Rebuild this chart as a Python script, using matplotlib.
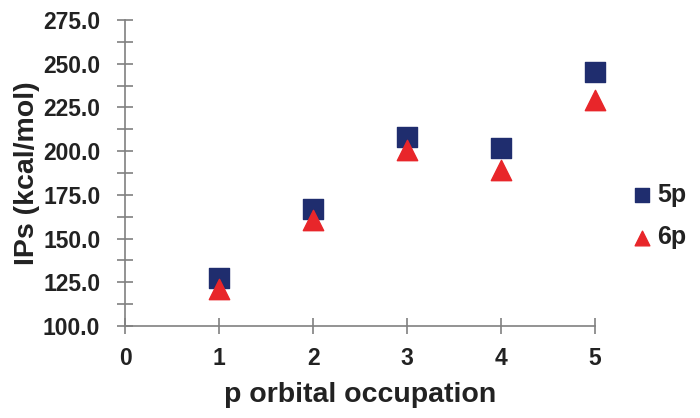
import numpy as np
import matplotlib.pyplot as plt
from matplotlib.ticker import MultipleLocator, FormatStrFormatter

occupation = [1, 2, 3, 4, 5]
ip_5p = [127.4, 166.9, 208.0, 201.8, 245.2]
ip_6p = [121.0, 160.6, 200.6, 189.0, 229.0]

plt.rcParams['font.family'] = ['Liberation Sans', 'DejaVu Sans']
plt.rcParams['font.weight'] = 'bold'

fig = plt.figure(figsize=(7, 4.18), dpi=100)
ax = fig.add_axes([0.179, 0.22, 0.671, 0.732])

ax.scatter(occupation, ip_5p, marker='s', s=215, color='#1f2d6e', label='5p',
           clip_on=False, zorder=3)
ax.scatter(occupation, ip_6p, marker='^', s=215, color='#e8262a', label='6p',
           clip_on=False, zorder=3)

ax.set_xlim(0, 5)
ax.set_ylim(100, 275)
ax.xaxis.set_major_locator(MultipleLocator(1))
ax.yaxis.set_major_locator(MultipleLocator(25))
ax.yaxis.set_minor_locator(MultipleLocator(12.5))
ax.yaxis.set_major_formatter(FormatStrFormatter('%.1f'))

for s in ['top', 'right']:
    ax.spines[s].set_visible(False)
for s in ['left', 'bottom']:
    ax.spines[s].set_color('#808080')
    ax.spines[s].set_linewidth(1.2)

ax.tick_params(axis='both', which='both', direction='inout', color='#808080',
               width=1.2, length=12, labelsize=16.5, labelcolor='#222222')
ax.tick_params(axis='x', pad=9)
ax.tick_params(axis='y', pad=12)

ax.set_xlabel('p orbital occupation', fontsize=20.5, fontweight='bold',
              color='#222222', labelpad=9)
ax.set_ylabel('IPs (kcal/mol)', fontsize=20.5, fontweight='bold',
              color='#222222', labelpad=2)

ax.legend(loc='center left', bbox_to_anchor=(1.02, 0.36), frameon=False,
          fontsize=18, handletextpad=0.0, markerscale=0.72, labelspacing=0.75,
          handlelength=1.2)
for t in ax.get_legend().get_texts():
    t.set_color('#222222')

fig.savefig('out.png', dpi=100)
